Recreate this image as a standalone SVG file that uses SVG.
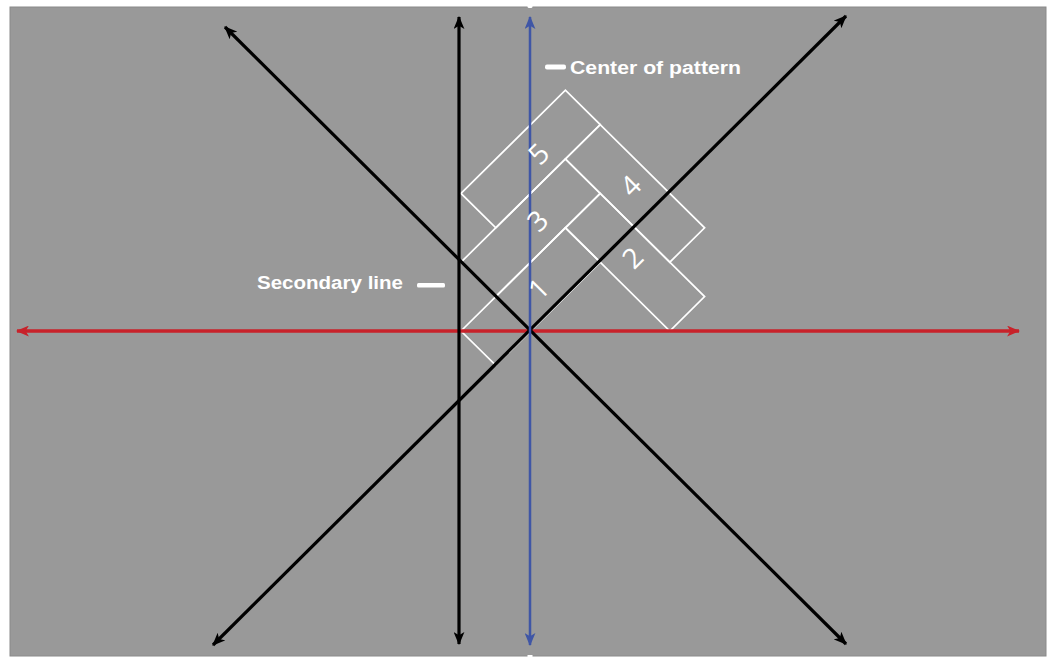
<svg xmlns="http://www.w3.org/2000/svg" width="1052" height="665" viewBox="0 0 1052 665">
  <style>
    .ln { fill: none; stroke-linecap: butt; }
    .blk { stroke: #000000; stroke-width: 3.2; }
    .blu { stroke: #3f56a6; stroke-width: 2.5; }
    .red { stroke: #c8222a; stroke-width: 3.5; }
    .tile { fill: none; stroke: #ffffff; stroke-width: 1.7; stroke-linejoin: miter; }
    .num { fill: #ffffff; font-family: "Open Sans", "Liberation Sans", sans-serif; font-weight: 400; font-size: 28px; text-anchor: middle; dominant-baseline: central; }
    .lbl { fill: #ffffff; font-family: "Liberation Sans", Arial, sans-serif; font-weight: bold; font-size: 18px; }
  </style>
  <defs>
    <marker id="arK" viewBox="0 0 12 10" refX="11" refY="5" markerWidth="13" markerHeight="11" markerUnits="userSpaceOnUse" orient="auto-start-reverse">
      <path d="M0,0 L12,5 L0,10 L3,5 z" fill="#000000"/>
    </marker>
    <marker id="arB" viewBox="0 0 12 10" refX="11" refY="5" markerWidth="13" markerHeight="11" markerUnits="userSpaceOnUse" orient="auto-start-reverse">
      <path d="M0,0 L12,5 L0,10 L3,5 z" fill="#3f56a6"/>
    </marker>
    <marker id="arR" viewBox="0 0 12 10" refX="11" refY="5" markerWidth="13" markerHeight="11" markerUnits="userSpaceOnUse" orient="auto-start-reverse">
      <path d="M0,0 L12,5 L0,10 L3,5 z" fill="#c8222a"/>
    </marker>
  </defs>

  <rect x="0" y="0" width="1052" height="665" fill="#ffffff"/>
  <g id="background">
    <rect x="10" y="7" width="1036" height="649" fill="#999999" stroke="#8a8a8a" stroke-width="1"/>
    <rect x="527.5" y="4" width="5" height="4" rx="1.5" fill="#ffffff"/>
    <rect x="527.5" y="655" width="5" height="6" fill="#ffffff"/>
  </g>

  <g id="tiles">
    <polygon id="tile-1" class="tile" points="461,331 565.4,227.8 600.2,262.2 495.8,365.4"/>
    <polygon id="tile-2" class="tile" points="565.4,227.8 600.2,193.4 704.6,296.6 669.8,331"/>
    <polygon id="tile-3" class="tile" points="461,262.2 565.4,159 600.2,193.4 495.8,296.6"/>
    <polygon id="tile-4" class="tile" points="565.4,159 600.2,124.6 704.6,227.8 669.8,262.2"/>
    <polygon id="tile-5" class="tile" points="461,193.4 565.4,90.2 600.2,124.6 495.8,227.8"/>
  </g>

  <g id="connectors">
    <line id="red-axis" class="ln red" x1="1019" y1="331" x2="17" y2="331" marker-start="url(#arR)" marker-end="url(#arR)"/>
    <line id="secondary-line" class="ln blk" x1="459" y1="644" x2="459" y2="17" marker-start="url(#arK)" marker-end="url(#arK)" stroke-width="2.8"/>
    <line id="diag-nw-se" class="ln blk" x1="225" y1="27" x2="846" y2="644" marker-start="url(#arK)" marker-end="url(#arK)"/>
    <line id="diag-sw-ne" class="ln blk" x1="213" y1="645" x2="846" y2="16" marker-start="url(#arK)" marker-end="url(#arK)"/>
    <line id="center-line" class="ln blu" x1="530" y1="645" x2="530" y2="17" marker-start="url(#arB)" marker-end="url(#arB)"/>
  </g>

  <g id="tile-numbers">
    <text class="num" x="538" y="153" transform="rotate(-45 538 153)">5</text>
    <text class="num" x="537" y="220" transform="rotate(-45 537 220)">3</text>
    <text class="num" x="538" y="288" transform="rotate(-45 538 288)">1</text>
    <text class="num" x="630" y="185" transform="rotate(-45 630 185)">4</text>
    <text class="num" x="632" y="257" transform="rotate(-45 632 257)">2</text>
  </g>

  <g id="label-center">
    <rect x="545" y="64.5" width="21" height="5" rx="2" fill="#ffffff"/>
    <text class="lbl" x="570" y="74" textLength="171" lengthAdjust="spacingAndGlyphs">Center of pattern</text>
  </g>
  <g id="label-secondary">
    <text class="lbl" x="257" y="289" textLength="146" lengthAdjust="spacingAndGlyphs">Secondary line</text>
    <rect x="417" y="283" width="28" height="4.5" rx="1.5" fill="#ffffff"/>
  </g>
</svg>
